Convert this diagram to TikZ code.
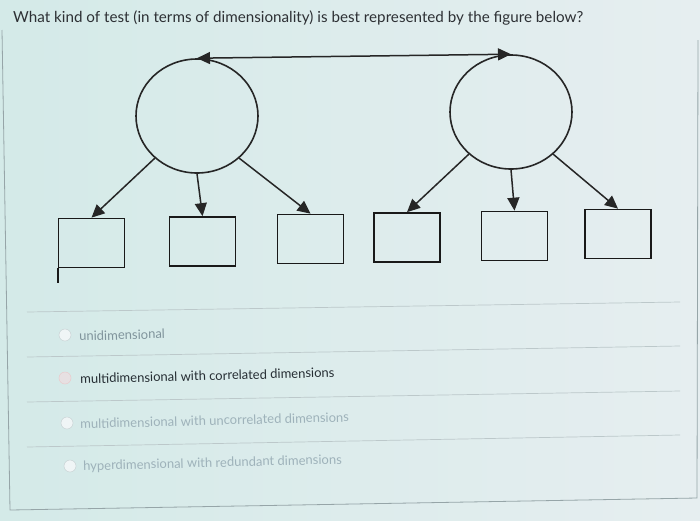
\documentclass[tikz,border=0pt]{standalone}
\usepackage{fontspec}
\setmainfont{Lato}
\usetikzlibrary{arrows.meta,shapes.geometric}
\definecolor{bgA}{RGB}{212,234,232}
\definecolor{bgB}{RGB}{230,238,240}
\definecolor{qtext}{RGB}{45,48,52}
\definecolor{optdark}{RGB}{38,46,52}
\definecolor{optmid}{RGB}{128,148,156}
\definecolor{optlight}{RGB}{158,178,186}
\definecolor{frameC}{RGB}{150,165,168}
\definecolor{sepC}{RGB}{188,200,202}
\tikzset{
  latent/.style={ellipse, draw=black!85, line width=1.6pt, minimum width=122pt, minimum height=114pt, inner sep=0pt},
  item/.style={rectangle, draw=black!90, line width=1.7pt, minimum width=66pt, minimum height=49pt, inner sep=0pt},
  load/.style={draw=black!85, line width=1.5pt, -{Triangle[length=13pt,width=12pt]}},
  corr/.style={draw=black!85, line width=1.5pt, {Triangle[length=13pt,width=12pt]}-{Triangle[length=13pt,width=12pt]}},
  opt/.style={anchor=west, font=\fontsize{13}{15}\selectfont, rotate=1.5, inner sep=0pt},
  radio/.style={circle, draw=sepC!70!bgB, fill=white!40!bgB, minimum size=12pt, inner sep=0pt, line width=0.5pt},
  sep/.style={draw=sepC, line width=0.7pt}
}
\begin{document}
\begin{tikzpicture}[x=1pt,y=-1pt]
\useasboundingbox (0,0) rectangle (700,520);
\shade[left color=bgA, right color=bgB] (0,0) rectangle (700,520);
% frame
\draw[frameC, line width=0.8pt] (2,30) -- (10,510) -- (697,498) -- (698,40);
% question
\node[anchor=west, inner sep=0pt, text=qtext, font=\fontsize{15.2}{17}\selectfont] (q) at (13,18)
  {What kind of test (in terms of dimensionality) is best represented by the figure below?};
% latent variables
\node[latent] (f1) at (197,116) {};
\node[latent] (f2) at (511,112) {};
% items
\node[item] (b1) at (91.5,243) {};
\node[item] (b2) at (202.5,241.5) {};
\node[item] (b3) at (310.5,239) {};
\node[item] (b4) at (407,237.5) {};
\node[item] (b5) at (514.5,236) {};
\node[item] (b6) at (618,234) {};
\draw[black!90, line width=1.7pt] (b1.south west) -- ++(0,15);
% connectors
\draw[corr] (f1.north) -- (f2.north);
\draw[load] (f1.225) -- (b1.north);
\draw[load] (f1.south) -- (b2.north);
\draw[load] (f1.315) -- (b3.north);
\draw[load] (f2.225) -- (b4.north);
\draw[load] (f2.south) -- (b5.north);
\draw[load] (f2.315) -- (b6.north);
% separators
\draw[sep] (27,312) -- (680,302);
\draw[sep] (27,357) -- (680,346);
\draw[sep] (27,402) -- (680,391);
\draw[sep] (27,447) -- (680,435);
% options
\node[radio] (r1) at (65,335) {};
\node[radio, draw=red!15!bgB, fill=red!6!bgB] (r2) at (65,378) {};
\node[radio] (r3) at (67,423) {};
\node[radio] (r4) at (70,466) {};
\node[opt, text=optmid] (o1) at (79,336) {unidimensional};
\node[opt, text=optdark] (o2) at (80,379) {multidimensional with correlated dimensions};
\node[opt, text=optlight] (o3) at (80,424) {multidimensional with uncorrelated dimensions};
\node[opt, text=optlight] (o4) at (83,467) {hyperdimensional with redundant dimensions};
\end{tikzpicture}
\end{document}
